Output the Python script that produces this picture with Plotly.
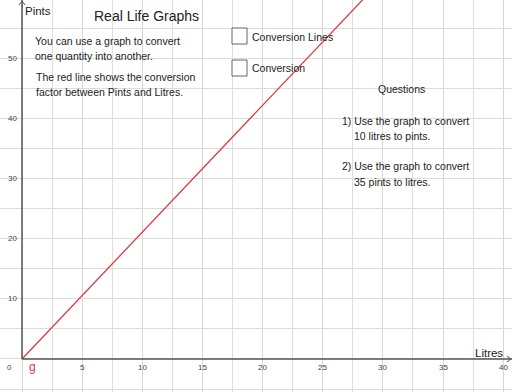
import plotly.graph_objects as go

# data
litres_range = [0, 40]
pints_per_litre = 2.113
x_ticks = [5, 10, 15, 20, 25, 30, 35, 40]
y_ticks = [10, 20, 30, 40, 50]

W, H = 512, 392
x_min, x_max = -1.83, 40.73
y_min, y_max = -5.5, 59.8

line_x = [0, 40]
line_y = [v * pints_per_litre for v in line_x]

fig = go.Figure()
fig.add_trace(go.Scatter(x=line_x, y=line_y, mode="lines",
                         line=dict(color="#e0393e", width=1.3),
                         hoverinfo="skip", showlegend=False))

FONT = "Liberation Sans, Arial, sans-serif"

def px(x):
    return x / W

def py(y):
    return 1 - y / H

ann = []
# tick labels
for t in x_ticks:
    ann.append(dict(x=t, y=0, xref="x", yref="y", text=str(t), showarrow=False,
                    yshift=-9, font=dict(size=8, color="#444", family=FONT)))
for t in y_ticks:
    ann.append(dict(x=0, y=t, xref="x", yref="y", text=str(t), showarrow=False,
                    xshift=-10, font=dict(size=8, color="#444", family=FONT)))
ann.append(dict(x=0, y=0, xref="x", yref="y", text="0", showarrow=False,
                xshift=-13, yshift=-9, font=dict(size=8, color="#444", family=FONT)))
ann.append(dict(x=0, y=0, xref="x", yref="y", text="g", showarrow=False,
                xshift=10, yshift=-8, font=dict(size=12, color="#e0393e", family=FONT)))

def txt(x, y, s, size=10.5, anchor="left", color="#222"):
    ann.append(dict(x=px(x), y=py(y), xref="paper", yref="paper", text=s,
                    showarrow=False, xanchor=anchor, yanchor="middle",
                    font=dict(size=size, color=color, family=FONT)))

txt(23, 11, "Pints", 11.5)
txt(146, 16, "Real Life Graphs", 14, "center")
txt(33, 41, "You can use a graph to convert")
txt(33, 56, "one quantity into another.")
txt(34, 77, "The red line shows the conversion")
txt(34, 92, "factor between Pints and Litres.")
txt(250, 37, "Conversion Lines")
txt(250, 68, "Conversion")
txt(401, 89, "Questions", 10.5, "center")
txt(340, 121, "1) Use the graph to convert")
txt(352, 136, "10 litres to pints.")
txt(340, 166, "2) Use the graph to convert")
txt(352, 182, "35 pints to litres.")
txt(505, 353, "Litres", 11.5, "right")

shapes = [
    # positive axes
    dict(type="line", xref="x", yref="y", x0=0, x1=0, y0=0, y1=y_max,
         line=dict(color="#555", width=1.5)),
    dict(type="line", xref="x", yref="y", x0=0, x1=x_max, y0=0, y1=0,
         line=dict(color="#555", width=1.5)),
    # arrow heads
    dict(type="path", xref="paper", yref="paper",
         path=f"M {px(19)} {py(5)} L {px(22)} {py(1)} L {px(25)} {py(5)}",
         line=dict(color="#555", width=1)),
    dict(type="path", xref="paper", yref="paper",
         path=f"M {px(507)} {py(356)} L {px(511)} {py(359)} L {px(507)} {py(362)}",
         line=dict(color="#555", width=1)),
    # checkboxes
    dict(type="rect", xref="paper", yref="paper", x0=px(232), x1=px(247), y0=py(28), y1=py(44),
         line=dict(color="#666", width=1), fillcolor="white"),
    dict(type="rect", xref="paper", yref="paper", x0=px(232), x1=px(247), y0=py(60), y1=py(76),
         line=dict(color="#666", width=1), fillcolor="white"),
]

fig.update_layout(
    width=W, height=H,
    margin=dict(l=0, r=0, t=0, b=0),
    paper_bgcolor="white", plot_bgcolor="white",
    xaxis=dict(range=[x_min, x_max], dtick=5, tick0=0, showgrid=True,
               gridcolor="#d6d6d6", gridwidth=1.3, zeroline=False,
               minor=dict(dtick=2.5, tick0=0, showgrid=True, gridcolor="#dedede", gridwidth=1),
               showticklabels=False, ticks="", fixedrange=True),
    yaxis=dict(range=[y_min, y_max], dtick=5, tick0=0, showgrid=True,
               gridcolor="#dcdcdc", gridwidth=1, zeroline=False,
               showticklabels=False, ticks="", fixedrange=True),
    annotations=ann, shapes=shapes, showlegend=False,
)

fig.write_html("out.html", config={"displayModeBar": False},
               post_script="document.body.style.margin='0';document.body.style.overflow='hidden';")
